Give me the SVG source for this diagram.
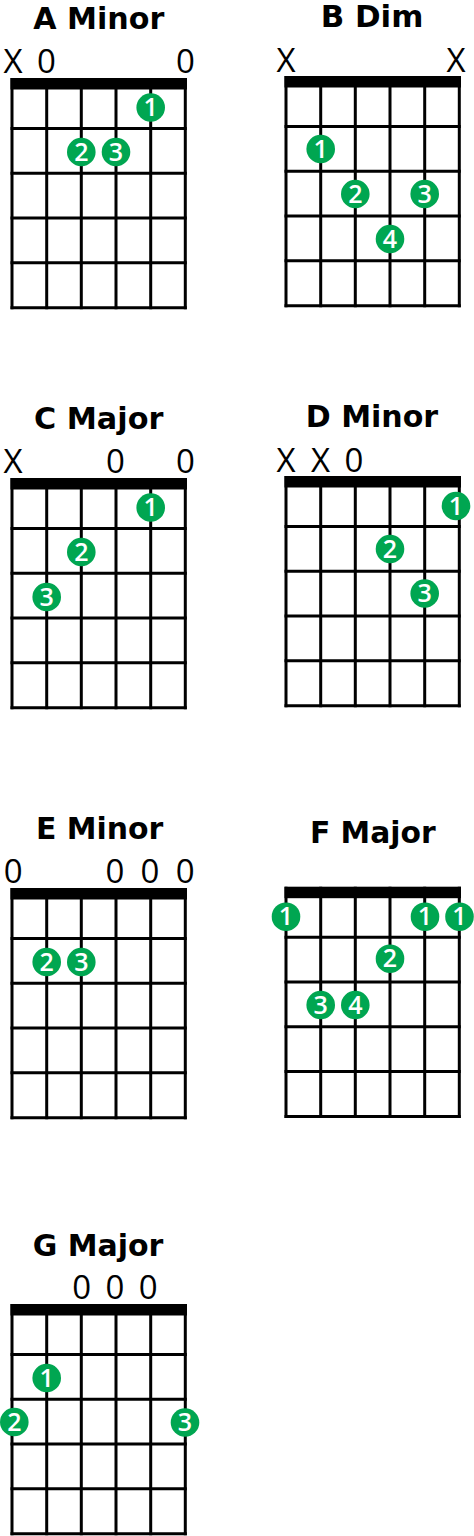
<svg xmlns="http://www.w3.org/2000/svg" width="474" height="1536" viewBox="0 0 474 1536">
<style>
.title{font-family:"DejaVu Sans",sans-serif;font-weight:bold;font-size:29.5px;fill:#000;text-anchor:middle}
.lbl{font-family:"Open Sans","Noto Sans",sans-serif;font-weight:400;font-size:33px;fill:#000;text-anchor:middle}
.dot{fill:#00a651}
.num{font-family:"Open Sans","Noto Sans",sans-serif;font-weight:600;font-size:25px;fill:#fff;text-anchor:middle}
.ln{stroke:#000;stroke-width:3;fill:none}
</style>
<defs>
<g id="grid">
<rect x="10.5" y="78" width="176.5" height="11.5" fill="#000"/>
<path class="ln" d="M12 78V309.3M46.7 78V309.3M81.3 78V309.3M116 78V309.3M150.7 78V309.3M185.3 78V309.3"/>
<path class="ln" d="M10.5 128.5H186.8M10.5 173.3H186.8M10.5 218H186.8M10.5 262.8H186.8M10.5 307.8H186.8"/>
</g>
</defs>
<g id="connectors"></g>
<g id="a-minor">
<text class="title" x="98.8" y="29.3" textLength="131" lengthAdjust="spacingAndGlyphs">A Minor</text>
<text class="lbl" x="13" y="73">X</text><text class="lbl" x="46.5" y="73">0</text><text class="lbl" x="185.5" y="73">0</text>
<use href="#grid"/>
<circle class="dot" cx="150.7" cy="107.5" r="14.3"/><text class="num" x="150.7" y="116.3">1</text>
<circle class="dot" cx="81.3" cy="152" r="14.3"/><text class="num" x="81.3" y="160.8">2</text>
<circle class="dot" cx="116" cy="152" r="14.3"/><text class="num" x="116" y="160.8">3</text>
</g>
<g id="b-dim" transform="translate(274,-2)">
<text class="title" x="98" y="29.3" textLength="102.7" lengthAdjust="spacingAndGlyphs">B Dim</text>
<text class="lbl" x="12" y="73.5">X</text><text class="lbl" x="182" y="73.5">X</text>
<use href="#grid"/>
<circle class="dot" cx="46.7" cy="151" r="14.3"/><text class="num" x="46.7" y="159.8">1</text>
<circle class="dot" cx="81.3" cy="196" r="14.3"/><text class="num" x="81.3" y="204.8">2</text>
<circle class="dot" cx="150.7" cy="196" r="14.3"/><text class="num" x="150.7" y="204.8">3</text>
<circle class="dot" cx="116" cy="241" r="14.3"/><text class="num" x="116" y="249.8">4</text>
</g>
<g id="c-major" transform="translate(0,400)">
<text class="title" x="98.7" y="29.3" textLength="129.3" lengthAdjust="spacingAndGlyphs">C Major</text>
<text class="lbl" x="13" y="73">X</text><text class="lbl" x="115.5" y="73">0</text><text class="lbl" x="185.5" y="73">0</text>
<use href="#grid"/>
<circle class="dot" cx="150.7" cy="107.5" r="14.3"/><text class="num" x="150.7" y="116.3">1</text>
<circle class="dot" cx="81.3" cy="152" r="14.3"/><text class="num" x="81.3" y="160.8">2</text>
<circle class="dot" cx="46.7" cy="197" r="14.3"/><text class="num" x="46.7" y="205.8">3</text>
</g>
<g id="d-minor" transform="translate(274,398)">
<text class="title" x="98" y="29.3" textLength="132.3" lengthAdjust="spacingAndGlyphs">D Minor</text>
<text class="lbl" x="12" y="73.5">X</text><text class="lbl" x="46.5" y="73.5">X</text><text class="lbl" x="80" y="73.5">0</text>
<use href="#grid"/>
<circle class="dot" cx="182" cy="108" r="14.3"/><text class="num" x="182" y="116.8">1</text>
<circle class="dot" cx="116" cy="151" r="14.3"/><text class="num" x="116" y="159.8">2</text>
<circle class="dot" cx="150.7" cy="195.5" r="14.3"/><text class="num" x="150.7" y="204.3">3</text>
</g>
<g id="e-minor" transform="translate(0,810)">
<text class="title" x="99.7" y="29.3" textLength="127.3" lengthAdjust="spacingAndGlyphs">E Minor</text>
<text class="lbl" x="13.3" y="73">0</text><text class="lbl" x="115" y="73">0</text><text class="lbl" x="150" y="73">0</text><text class="lbl" x="185.3" y="73">0</text>
<use href="#grid"/>
<circle class="dot" cx="46.7" cy="152" r="14.3"/><text class="num" x="46.7" y="160.8">2</text>
<circle class="dot" cx="81.3" cy="152" r="14.3"/><text class="num" x="81.3" y="160.8">3</text>
</g>
<g id="f-major" transform="translate(274,808.7)">
<text class="title" x="98.8" y="34" textLength="125.7" lengthAdjust="spacingAndGlyphs">F Major</text>
<use href="#grid"/>
<circle class="dot" cx="12" cy="108" r="14.3"/><text class="num" x="12" y="116.8">1</text>
<circle class="dot" cx="151" cy="108" r="14.3"/><text class="num" x="151" y="116.8">1</text>
<circle class="dot" cx="185.5" cy="108" r="14.3"/><text class="num" x="185.5" y="116.8">1</text>
<circle class="dot" cx="116" cy="150" r="14.3"/><text class="num" x="116" y="158.8">2</text>
<circle class="dot" cx="46.7" cy="196.3" r="14.3"/><text class="num" x="46.7" y="205.1">3</text>
<circle class="dot" cx="81.3" cy="196.3" r="14.3"/><text class="num" x="81.3" y="205.1">4</text>
</g>
<g id="g-major" transform="translate(0,1226)">
<text class="title" x="98" y="30" textLength="130.7" lengthAdjust="spacingAndGlyphs">G Major</text>
<text class="lbl" x="81.7" y="73">0</text><text class="lbl" x="115" y="73">0</text><text class="lbl" x="148.3" y="73">0</text>
<use href="#grid"/>
<circle class="dot" cx="46.7" cy="152" r="14.3"/><text class="num" x="46.7" y="160.8">1</text>
<circle class="dot" cx="14.3" cy="196" r="14.3"/><text class="num" x="14.3" y="204.8">2</text>
<circle class="dot" cx="185" cy="196.5" r="14.3"/><text class="num" x="185" y="205.3">3</text>
</g>
</svg>
